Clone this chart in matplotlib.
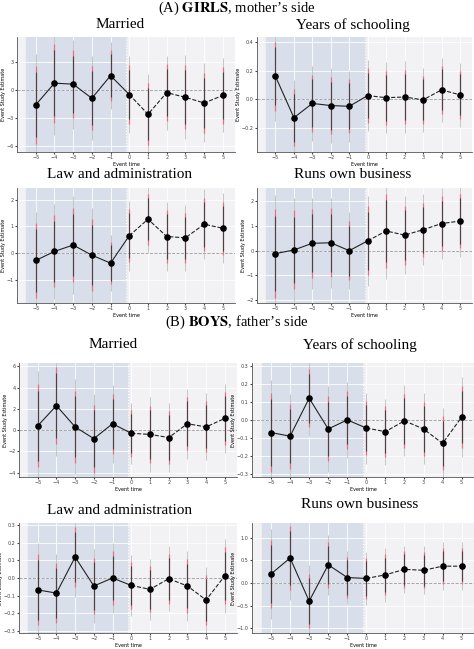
import matplotlib
matplotlib.use("Agg")
import matplotlib.pyplot as plt
import numpy as np

plt.rcParams["mathtext.fontset"] = "stix"

t = np.arange(-5, 6)
titles = ["Married", "Years of schooling", "Law and administration", "Runs own business"]

girls_est = [
    [-1.6, 0.7, 0.6, -0.9, 1.5, -0.5, -2.6, -0.3, -0.8, -1.4, -0.6],
    [0.16, -0.13, -0.03, -0.045, -0.05, 0.025, 0.01, 0.015, -0.005, 0.065, 0.03],
    [-0.28, 0.06, 0.3, -0.08, -0.38, 0.65, 1.27, 0.62, 0.57, 1.08, 0.93],
    [-0.12, 0.03, 0.3, 0.32, 0.0, 0.4, 0.8, 0.63, 0.85, 1.1, 1.2],
]
girls_hw = [
    [4.1, 4.2, 3.6, 3.4, 2.7, 3.1, 3.3, 3.0, 3.4, 3.2, 3.0],
    [0.24, 0.2, 0.2, 0.2, 0.19, 0.19, 0.19, 0.19, 0.17, 0.17, 0.17],
    [1.4, 1.35, 1.4, 1.35, 0.8, 1.0, 0.95, 1.0, 0.95, 1.0, 1.0],
    [1.8, 1.6, 1.4, 1.4, 1.2, 1.4, 1.5, 1.2, 1.1, 1.1, 1.1],
]
boys_est = [
    [0.4, 2.3, 0.3, -0.8, 0.6, -0.3, -0.4, -0.7, 0.6, 0.3, 1.1],
    [-0.07, -0.09, 0.12, -0.05, 0.0, -0.045, -0.065, -0.005, -0.05, -0.13, 0.015],
    [-0.067, -0.085, 0.118, -0.045, 0.0, -0.042, -0.064, -0.004, -0.045, -0.124, 0.013],
    [0.2, 0.55, -0.4, 0.4, 0.12, 0.1, 0.18, 0.3, 0.28, 0.37, 0.37],
]
boys_hw = [
    [3.9, 3.6, 3.4, 3.2, 2.8, 2.2, 2.7, 2.5, 2.5, 2.4, 2.5],
    [0.22, 0.18, 0.16, 0.18, 0.16, 0.15, 0.14, 0.15, 0.15, 0.15, 0.17],
    [0.2, 0.17, 0.17, 0.16, 0.15, 0.13, 0.13, 0.14, 0.15, 0.14, 0.16],
    [0.75, 0.7, 0.6, 0.5, 0.45, 0.45, 0.45, 0.4, 0.4, 0.4, 0.4],
]
girls_ylim = [(-6.6, 5.6), (-0.37, 0.435), (-1.875, 2.44), (-2.12, 2.54)]
girls_ticks = [[-6, -3, 0, 3], [-0.2, 0.0, 0.2, 0.4], [-1, 0, 1, 2], [-2, -1, 0, 1, 2]]
boys_ylim = [(-4.4, 6.3), (-0.316, 0.315), (-0.31, 0.31), (-1.1, 1.32)]
boys_ticks = [[-4, -2, 0, 2, 4, 6], [-0.3, -0.2, -0.1, 0.0, 0.1, 0.2, 0.3],
              [-0.3, -0.2, -0.1, 0.0, 0.1, 0.2, 0.3], [-1.0, -0.5, 0.0, 0.5, 1.0]]

W, H = 474, 649
fig = plt.figure(figsize=(W/100, H/100), dpi=100)
serif = "Liberation Serif"

def rect(x0, y0, x1, y1):
    return [x0/W, 1 - y1/H, (x1-x0)/W, (y1-y0)/H]

def panel(box, title, est, hw, ylim, ticks, ty, tx):
    ax = fig.add_axes(rect(*box))
    ax.set_facecolor("#f2f2f4")
    ax.axvspan(-5.5, -0.15, color="#d9dfea", zorder=0)
    ax.axvline(-0.15, color="white", ls=":", lw=0.8, zorder=1)
    ax.axhline(0, color="#999999", ls="--", lw=0.6, zorder=1)
    ax.grid(True, color="white", lw=0.6, zorder=0.5)
    ax.set_axisbelow(True)
    est = np.array(est); hw = np.array(hw)
    ax.vlines(t, est - 1.31*hw, est + 1.31*hw, color="#b0b0b0", lw=0.5, zorder=2)
    ax.vlines(t, est - hw, est + hw, color="#e47080", lw=0.9, zorder=3)
    ax.vlines(t, est - 0.84*hw, est + 0.84*hw, color="#444444", lw=0.8, zorder=4)
    ax.plot(t[:6], est[:6], color="#222222", lw=0.8, zorder=5)
    ax.plot(t[5:], est[5:], color="#222222", lw=0.8, ls="--", zorder=5)
    ax.scatter(t, est, s=14, color="black", zorder=6)
    ax.set_xlim(-6.0, 5.65)
    ax.set_ylim(*ylim)
    ax.set_xticks(t)
    ax.set_yticks(ticks)
    ax.tick_params(labelsize=3.5, length=1.5, pad=1, colors="#444444")
    for s in ["top", "right"]:
        ax.spines[s].set_visible(False)
    for s in ["left", "bottom"]:
        ax.spines[s].set_color("#555555"); ax.spines[s].set_linewidth(0.6)
    ax.set_xlabel("Event time", fontsize=3.5, labelpad=1)
    ax.set_ylabel("Event Study Estimate", fontsize=3.5, labelpad=0.5)
    fig.text(tx/W, 1 - ty/H, title, family=serif, fontsize=11, ha="center", va="center")

fig.text(0.5, 1 - 8/H, "(A) $\\mathbf{GIRLS}$, mother\u2019s side", family=serif, fontsize=10.5,
         ha="center", va="center")
fig.text(0.5, 1 - 322/H, "(B) $\\mathbf{BOYS}$, father\u2019s side", family=serif, fontsize=10.5,
         ha="center", va="center")

gboxes = [(17, 37, 235, 152), (257, 37, 472, 152), (17, 188, 235, 303), (257, 188, 472, 303)]
gty = [25, 25, 174, 174]
gtx = [120, 353, 120, 353]
for i in range(4):
    panel(gboxes[i], titles[i], girls_est[i], girls_hw[i], girls_ylim[i], girls_ticks[i], gty[i], gtx[i])

bboxes = [(19, 363, 237, 477), (252, 363, 474, 477), (19, 523, 237, 633), (252, 523, 474, 633)]
bty = [345, 345, 510, 505]
btx = [113, 360, 120, 360]
for i in range(4):
    panel(bboxes[i], titles[i], boys_est[i], boys_hw[i], boys_ylim[i], boys_ticks[i], bty[i], btx[i])

fig.savefig("out.png", dpi=100)
